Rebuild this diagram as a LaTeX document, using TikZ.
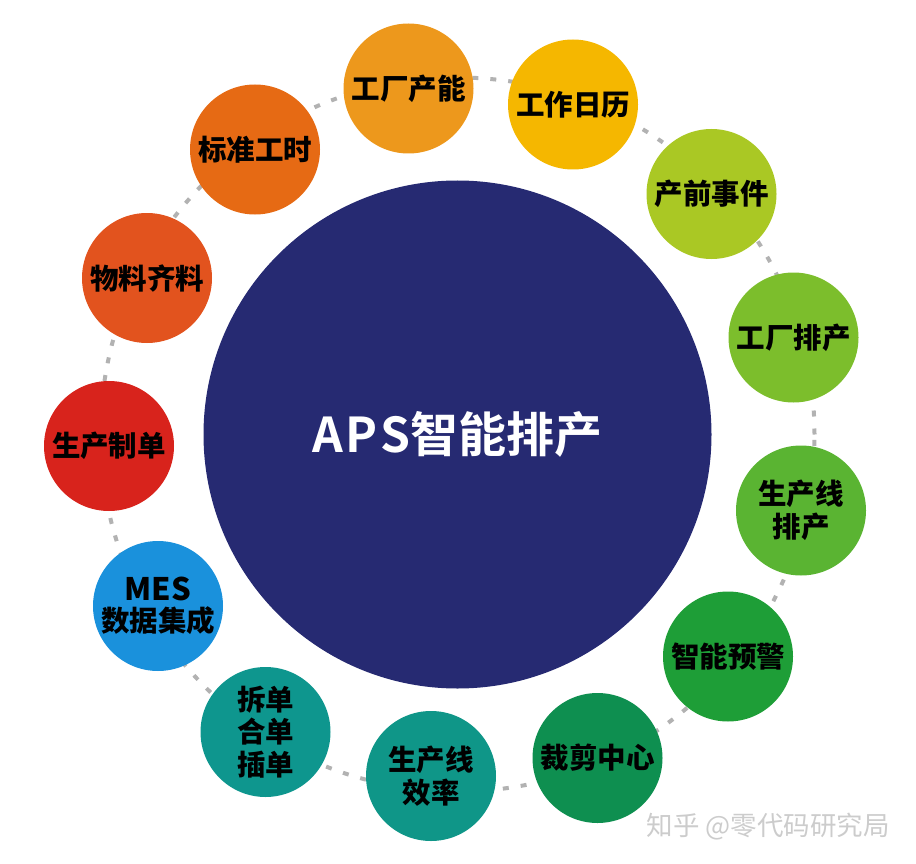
\documentclass[tikz,border=0pt]{standalone}
\usepackage{fontspec}
\setmainfont{Noto Sans CJK SC}[BoldFont={Noto Sans CJK SC Black}]
\newfontfamily\medfont{Noto Sans CJK SC}[UprightFont={* Bold}]
\begin{document}
\begin{tikzpicture}[x=1pt,y=-1pt,
  sat/.style={circle,minimum size=130pt,inner sep=0pt,fill=#1,
    font=\fontsize{28.5}{32.5}\selectfont\bfseries,text=black,align=center},
  ring/.style={draw=gray!60,line width=4pt,dash pattern=on 6pt off 12pt}]
\useasboundingbox (0,0) rectangle (916,864);
\definecolor{cNavy}{RGB}{38,42,114}
\definecolor{cA}{RGB}{237,152,28}
\definecolor{cB}{RGB}{245,183,0}
\definecolor{cC}{RGB}{170,200,36}
\definecolor{cD}{RGB}{124,190,44}
\definecolor{cE}{RGB}{90,180,50}
\definecolor{cF}{RGB}{30,158,55}
\definecolor{cG}{RGB}{14,143,80}
\definecolor{cH}{RGB}{15,150,136}
\definecolor{cI}{RGB}{14,150,142}
\definecolor{cJ}{RGB}{26,145,220}
\definecolor{cK}{RGB}{216,35,28}
\definecolor{cL}{RGB}{226,83,30}
\definecolor{cM}{RGB}{230,106,20}
\coordinate (ctr) at (457.5,434.5);
\draw[ring] (ctr) circle[radius=357pt];
\node[circle,minimum size=508pt,inner sep=0pt,fill=cNavy,text=white,
  font=\fontsize{48}{50}\selectfont\medfont] (aps) at (ctr) {A\kern3pt P\kern3pt S智能排产};
\node[sat=cA] (s1) at (408.5,88.5) {工厂产能};
\node[sat=cB] (s2) at (573,104.5) {工作日历};
\node[sat=cC] (s3) at (711.5,194) {产前事件};
\node[sat=cD] (s4) at (793.5,337.5) {工厂排产};
\node[sat=cE] (s5) at (801,510.5) {生产线\\排产};
\node[sat=cF] (s6) at (728,656.5) {智能预警};
\node[sat=cG] (s7) at (597.5,758) {裁剪中心};
\node[sat=cH] (s8) at (431,776) {生产线\\效率};
\node[sat=cI] (s9) at (265.5,732) {拆单\\合单\\插单};
\node[sat=cJ] (s10) at (158,606) {{\medfont\fontsize{31}{35}\selectfont MES}\\[-1pt]数据集成};
\node[sat=cK] (s11) at (109,446) {生产制单};
\node[sat=cL] (s12) at (147,278) {物料齐料};
\node[sat=cM] (s13) at (255,149.5) {标准工时};
\node[text=gray!40,font=\fontsize{26.5}{28}\selectfont] (wm) at (768,827) {知乎 @零代码研究局};
\end{tikzpicture}
\end{document}
